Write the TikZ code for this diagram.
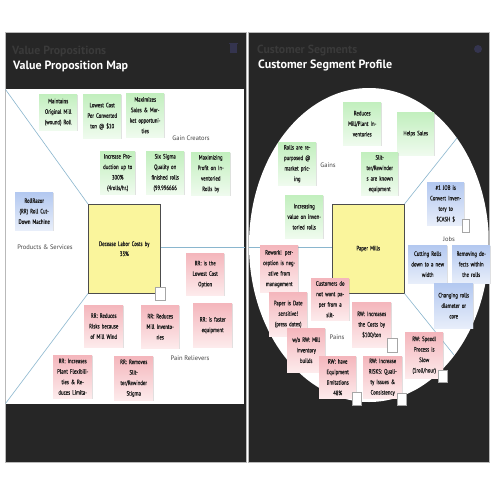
\documentclass[tikz,border=0pt]{standalone}
\usepackage{fontspec}
\usepackage{graphicx}
\setmainfont{PT Sans}
\newfontfamily\notefont[FakeStretch=0.75,FakeBold=0.6]{PT Sans}
\newfontfamily\lblfont{PT Sans}
\usetikzlibrary{shadows}
\definecolor{panel}{HTML}{262626}
\definecolor{hdgray}{HTML}{3A3A3A}
\definecolor{conncol}{HTML}{8AB6CE}
\definecolor{gtop}{HTML}{C2EFBE}
\definecolor{gbot}{HTML}{EFFBEE}
\definecolor{ptop}{HTML}{F4B6BC}
\definecolor{pbot}{HTML}{FDEBEC}
\definecolor{btop}{HTML}{B3C8F0}
\definecolor{bbot}{HTML}{E8EEFA}
\definecolor{ylw}{HTML}{FAF59C}
\definecolor{lblcol}{HTML}{444444}
\definecolor{txtcol}{HTML}{1E1E1E}
\tikzset{
  notebase/.style={rectangle, anchor=north west, inner sep=0pt, align=center,
    text width=35pt, text=txtcol, font=\notefont\fontsize{6.4}{10.5}\selectfont,
    drop shadow={shadow xshift=0.5pt, shadow yshift=-0.9pt, opacity=0.25}},
  gn/.style 2 args={notebase, top color=gtop, bottom color=gbot, minimum width=#1pt, minimum height=#2pt},
  pn/.style 2 args={notebase, top color=ptop, bottom color=pbot, minimum width=#1pt, minimum height=#2pt},
  bn/.style 2 args={notebase, top color=btop, bottom color=bbot, minimum width=#1pt, minimum height=#2pt},
  yn/.style={rectangle, anchor=north west, inner sep=0pt, align=center, text width=64pt,
    fill=ylw, draw=black!70, line width=0.5pt, minimum width=72pt, minimum height=89pt,
    text=txtcol, font=\notefont\fontsize{6.4}{10}\selectfont},
  tabbox/.style 2 args={rectangle, anchor=north west, inner sep=0pt, fill=white, draw=gray!70,
    line width=0.4pt, minimum width=#1pt, minimum height=#2pt},
  lbl/.style={text=lblcol, font=\lblfont\fontsize{6.5}{7}\selectfont, inner sep=0pt},
  conn/.style={draw=conncol, line width=0.6pt},
  hdsub/.style={anchor=base west, inner sep=0pt, text=hdgray, font=\lblfont\bfseries},
  hdmain/.style={anchor=base west, inner sep=0pt, text=white, font=\lblfont\bfseries}
}
\begin{document}
\begin{tikzpicture}[x=1pt,y=-1pt]
\useasboundingbox (0,0) rectangle (495,495);
\fill[white] (0,0) rectangle (495,495);
% panels
\fill[panel] (5,32) rectangle (246,462);
\fill[panel] (248,32) rectangle (489,462);
\draw[gray!55, line width=0.4pt] (5,32) rectangle (246,462);
\draw[gray!55, line width=0.4pt] (248,32) rectangle (489,462);
% left body
\fill[white] (6,89) rectangle (244,404);
% right body (ellipse)
\begin{scope}
\clip (248.3,32) rectangle (488.7,462);
\fill[white] (369,245) ellipse [x radius=120, y radius=157];
\end{scope}
% headers
\node[hdsub] (h1) at (12,54) {\resizebox{94pt}{!}{Value Propositions}};
\node[hdmain] (h2) at (13,69) {\resizebox{115pt}{!}{Value Proposition Map}};
\node[hdsub] (h3) at (257,54) {\resizebox{100pt}{!}{Customer Segments}};
\node[hdmain] (h4) at (258,69) {\resizebox{134pt}{!}{Customer Segment Profile}};
% header icons
\fill[hdgray!90!blue] (230,44) rectangle (237,53);
\fill[hdgray!90!blue] (229,43) rectangle (238,44.5);
\fill[hdgray!90!blue] (478,49) circle [radius=4];

% ---------- left panel ----------
\node[yn] (y1) at (88,204) {Decease Labor Costs by\\33\%};
\coordinate (ltl) at (5.5,89.5);
\coordinate (lbl) at (5.5,403.5);
\coordinate (lr) at (244.5,247);
\draw[conn] (ltl) -- (y1.north west);
\draw[conn] (y1.south west) -- (lbl);
\draw[conn] (y1.east |- lr) -- (lr);
\node[tabbox={10}{13}] (t1) at (155,287) {};

\node[gn={38}{36}] (g1) at (39,94) {Maintains\\Original Mill\\(wound) Roll};
\node[gn={38}{44}] (g2) at (83,94) {Lowest Cost\\Per Converted\\ton @ \$10};
\node[gn={38}{44}] (g3) at (126,93) {Maximizes\\Sales \& Mar-\\ket opportuni-\\ties};
\node[gn={34}{43}] (g4) at (100,151) {Increase Pro-\\duction up to\\300\%\\(4rolls/hr.)};
\node[gn={38}{43}] (g5) at (146,151) {Six Sigma\\Quality on\\finished rolls\\(99.996666};
\node[gn={39}{43}] (g6) at (191,152) {Maximizing\\Profit on In-\\ventoried\\Rolls by};
\node[bn={38}{38}] (b1) at (15,192) {RollRazor\\(RR) Roll Cut-\\Down Machine};
\node[pn={38}{42}] (p1) at (186,253) {RR: is the\\Lowest Cost\\Option};
\node[pn={39}{42}] (p2) at (84,305) {RR: Reduces\\Risks because\\of Mill Wind};
\node[pn={38}{43}] (p3) at (141,305) {RR: Reduces\\Mill Invento-\\ries};
\node[pn={39}{44}] (p4) at (193,303) {RR: is faster\\equipment};
\node[pn={39}{43}] (p5) at (53,355) {RR: Increases\\Plant Flexibili-\\ties \& Re-\\duces Limita-};
\node[pn={39}{44}] (p6) at (114,356) {RR: Removes\\Slit-\\ter/Rewinder\\Stigma};

\node[lbl] (l1) at (191,138) {Gain Creators};
\node[lbl] (l2) at (190,358) {Pain Relievers};
\node[lbl] (l3) at (45,247) {Products \& Services};

% ---------- right panel ----------
\node[yn] (y2) at (332,204) {Paper Mills};
\coordinate (rl) at (248.5,247);
\coordinate (rtr) at (457,138);
\coordinate (rbr) at (454,355);
\draw[conn] (rl) -- (y2.west |- rl);
\draw[conn] (y2.north east) -- (rtr);
\draw[conn] (y2.south east) -- (rbr);

\node[gn={38}{43}] (g7) at (343,102) {Reduces\\Mill/Plant In-\\ventories};
\node[gn={37}{43}] (g8) at (397,112) {Helps Sales};
\node[gn={38}{43}] (g9) at (278,142) {Rolls are re-\\purposed @\\market pric-\\ing};
\node[gn={37}{43}] (g10) at (361,152) {Slit-\\ter/Rewinder\\s are known\\equipment};
\node[gn={38}{43}] (g11) at (285,195) {Increasing\\value on inven-\\toried rolls};

\node[bn={37}{43}] (b2) at (427,182) {\#1 JOB is\\Convert Inven-\\tory to\\\$CASH \$};
\node[tabbox={7}{13}] (t2) at (462,219) {};
\node[bn={39}{38}] (b3) at (408,245) {Cutting Rolls\\down to a new\\width};
\node[bn={38}{38}] (b4) at (452,245) {Removing de-\\fects within\\the rolls};
\node[bn={39}{45}] (b5) at (434,283) {Changing rolls\\diameter or\\core};

\node[pn={38}{47}] (p7) at (260,245) {Rework! per-\\ception is neg-\\ative from\\management};
\node[pn={38}{42}] (p8) at (311,278) {Customers do\\not want pa-\\per from a\\slit-};
\node[pn={38}{44}] (p9) at (269,292) {Paper is Date\\sensitive!\\(press dates)};
\node[pn={39}{45}] (p10) at (352,302) {RW: Increases\\the Costs by\\\$100/ton};
\node[tabbox={10}{14}] (t3) at (387,338) {};
\node[pn={38}{44}] (p11) at (287,328) {w/o RW: Mill\\Inventory\\builds};
\node[pn={38}{46}] (p12) at (405,332) {RW: Speed!\\Process is\\Slow\\(1roll/hour)};
\node[tabbox={9}{12}] (t4) at (438,370) {};
\node[pn={37}{42}] (p13) at (319,356) {RW: have\\Equipment\\limitations\\48\%};
\node[tabbox={9}{13}] (t5) at (352,392) {};
\node[pn={39}{42}] (p14) at (363,356) {RW: Increase\\RISKS: Quali-\\ty Issues \&\\Consistency};
\node[tabbox={9}{12}] (t6) at (397,393) {};

\node[lbl] (l4) at (328,165) {Gains};
\node[lbl] (l5) at (337,337) {Pains};
\node[lbl] (l6) at (449,239) {Jobs};
\end{tikzpicture}
\end{document}
